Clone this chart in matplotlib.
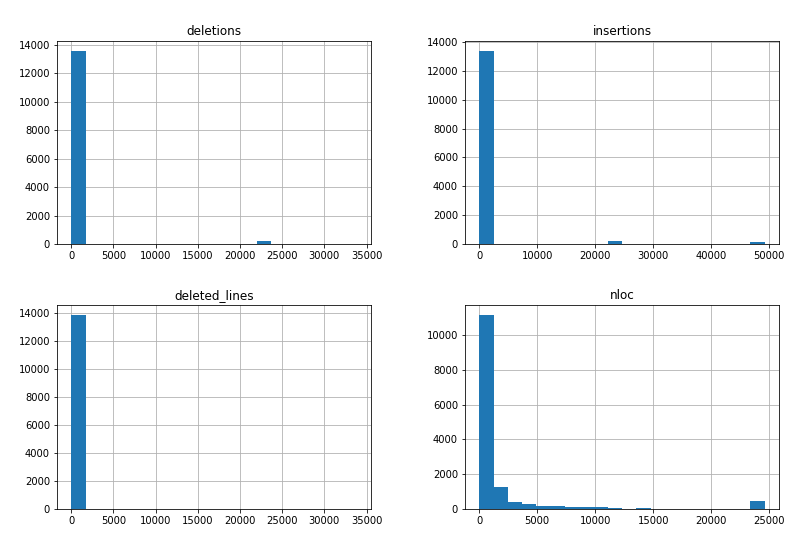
import numpy as np
import matplotlib
matplotlib.use("Agg")
import matplotlib.pyplot as plt

# colunas e valores (20 bins cada)
columns = ["deletions", "insertions", "deleted_lines", "nloc"]

range_deletions = [0, 33830]
counts_deletions = [13600, 0, 0, 0, 0, 0, 0, 0, 0, 0, 0, 0, 0, 200, 0, 0, 0, 0, 0, 0]

range_insertions = [0, 49270]
counts_insertions = [13400, 0, 0, 0, 0, 0, 0, 0, 0, 220, 0, 0, 0, 0, 0, 0, 0, 0, 0, 130]

range_deleted_lines = [0, 33830]
counts_deleted_lines = [13850, 0, 0, 0, 0, 0, 0, 0, 0, 0, 0, 0, 0, 0, 0, 0, 0, 0, 0, 0]

range_nloc = [0, 24630]
counts_nloc = [11200, 1250, 380, 250, 130, 130, 70, 70, 70, 60, 0, 60, 0, 0, 0, 0, 0, 0, 0, 430]

ranges = [range_deletions, range_insertions, range_deleted_lines, range_nloc]
counts = [counts_deletions, counts_insertions, counts_deleted_lines, counts_nloc]

fig = plt.figure(figsize=(804 / 72, 550 / 72), dpi=72)

# posições dos eixos em fração da figura
pos = [
    [0.0709, 0.5564, 0.3905, 0.369],
    [0.5784, 0.5564, 0.3905, 0.369],
    [0.0709, 0.0751, 0.3905, 0.3704],
    [0.5784, 0.0751, 0.3905, 0.3704],
]

for i, nome in enumerate(columns):
    ax = fig.add_axes(pos[i])
    edges = np.linspace(ranges[i][0], ranges[i][1], len(counts[i]) + 1)
    ax.hist(edges[:-1], bins=edges, weights=counts[i], color="#1f77b4")
    ax.set_title(nome, fontsize=12)
    ax.grid(True)
    ax.set_axisbelow(True)
    ax.tick_params(labelsize=10)

fig.savefig("out.png", dpi=72)
